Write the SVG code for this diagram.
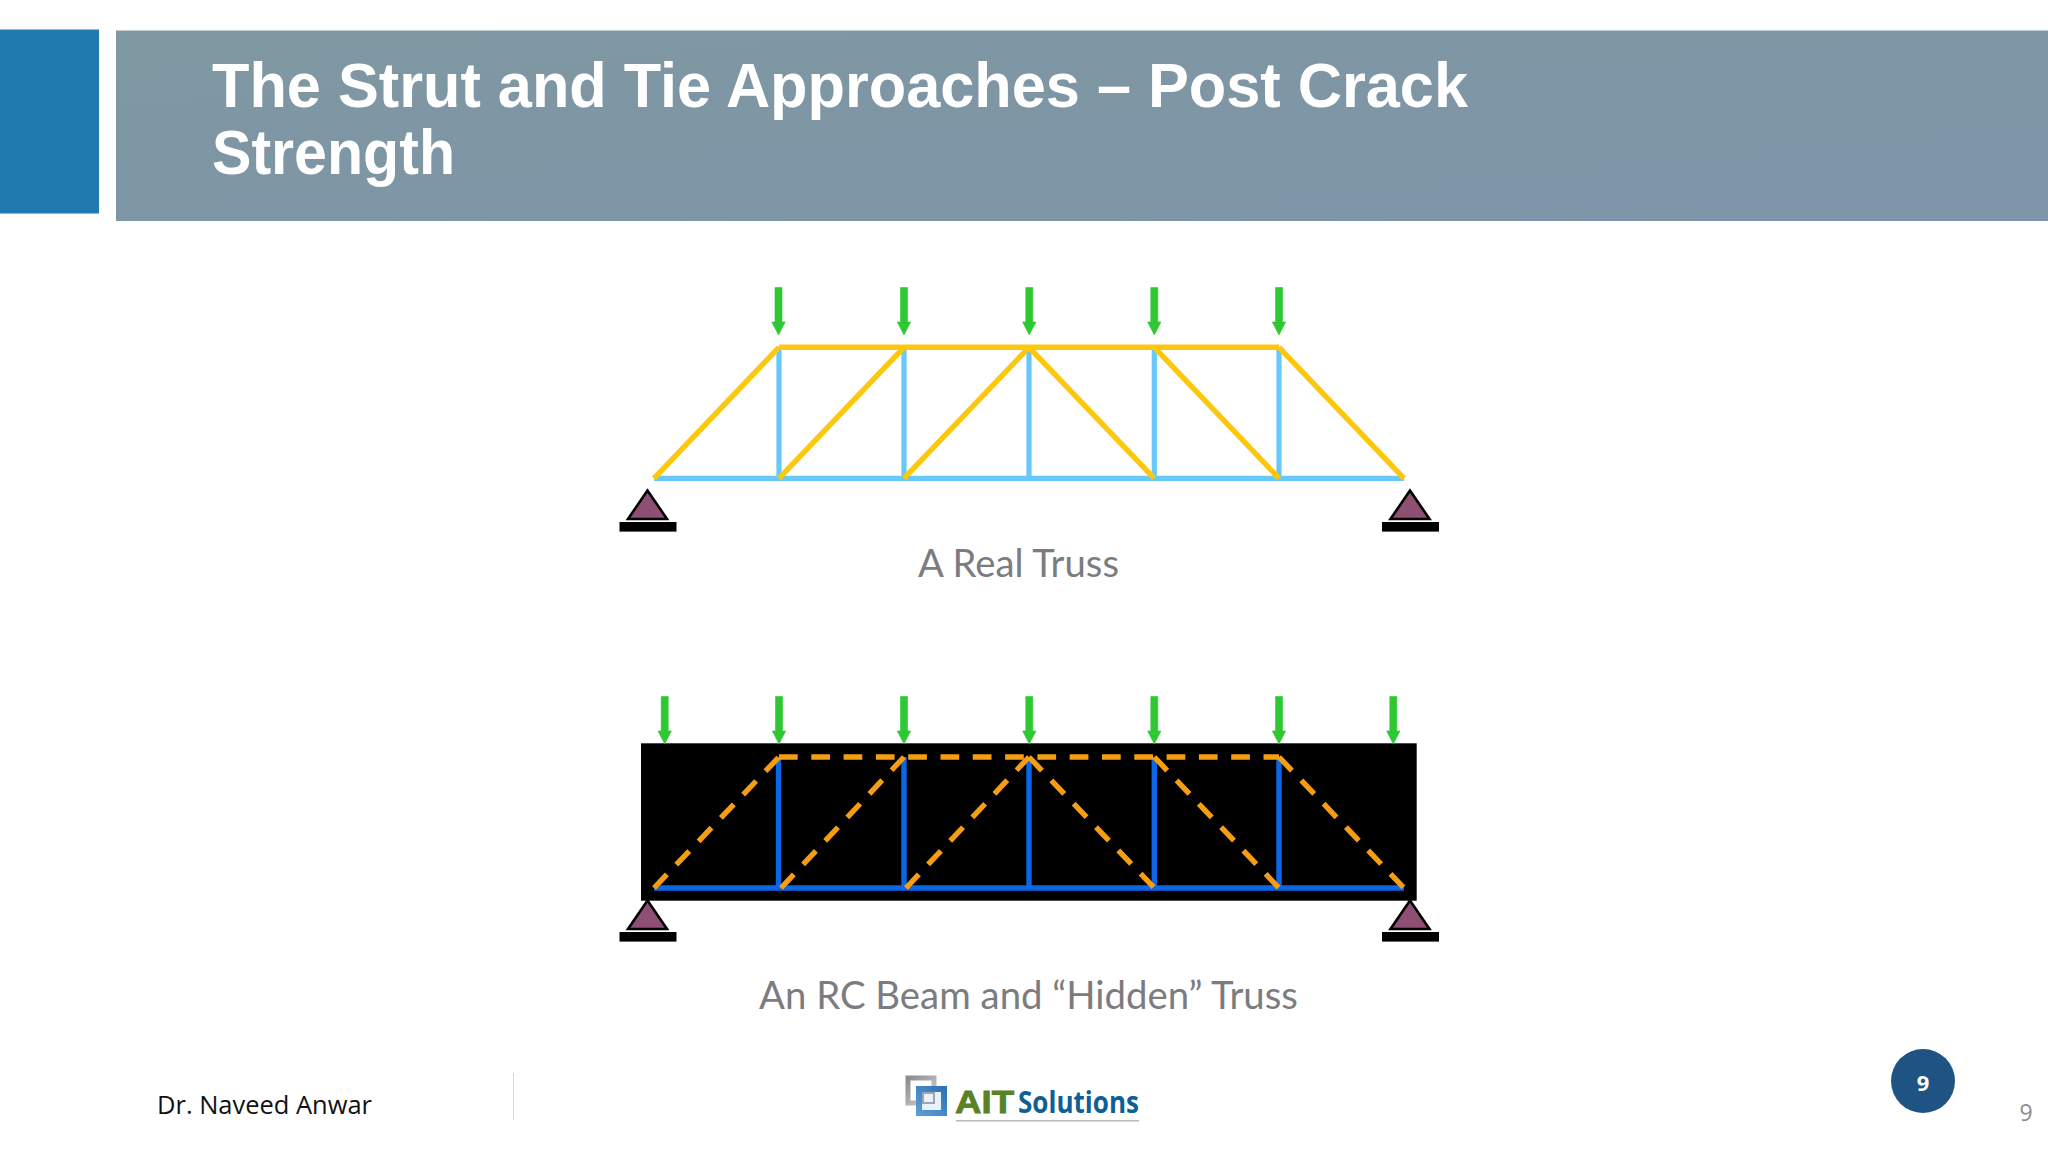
<svg xmlns="http://www.w3.org/2000/svg" width="2048" height="1152" viewBox="0 0 2048 1152">
<style>
.title{font-family:"Liberation Sans",Arial,sans-serif;font-weight:700;font-size:63px;fill:#fff}
.cap{font-family:Lato,"Open Sans",sans-serif;font-size:39px;fill:#7c7c80}
.ft{font-family:"Open Sans","Noto Sans",sans-serif}
.y{stroke:#fcc70c;stroke-width:5.4;fill:none}
.lb{stroke:#66c8fb;stroke-width:5.2;fill:none}
.o{stroke:#f59e14;stroke-width:5.4;fill:none;stroke-dasharray:18.7 13.6}
.b{stroke:#0b66e8;stroke-width:5.4;fill:none}
.sup{fill:#8f4f72;stroke:#000;stroke-width:2.6}
</style>
<defs>
<linearGradient id="hdr" x1="0" y1="0" x2="1" y2="1"><stop offset="0" stop-color="#7f98a1"/><stop offset="1" stop-color="#7e94a9"/></linearGradient>
<linearGradient id="sq1" x1="0" y1="0" x2="1" y2="1"><stop offset="0" stop-color="#8c8c8c"/><stop offset="1" stop-color="#d4d4d4"/></linearGradient>
<linearGradient id="sq2" x1="0" y1="1" x2="1" y2="0"><stop offset="0" stop-color="#5b9bd6"/><stop offset="1" stop-color="#2f74b5"/></linearGradient>
<path id="arrow" d="M-3.5 0H3.5V34.5H6.7L0 47.5L-6.7 34.5H-3.5Z" fill="#2dc832" stroke="#2dc832" stroke-width="0.6"/>
<g id="support"><path class="sup" d="M0 0L-19.5 28.5H19.5Z"/><rect x="-28" y="31.5" width="57" height="9.6" fill="#000"/></g>
</defs>
<rect width="2048" height="1152" fill="#fff"/>
<g id="header">
<rect id="accent" x="0" y="29.5" width="99" height="184" fill="#1f7ab0"/>
<rect id="banner" x="116" y="30.5" width="1932" height="190.5" fill="url(#hdr)"/>
<text class="title" x="212" y="106.5" textLength="1256" lengthAdjust="spacingAndGlyphs">The Strut and Tie Approaches – Post Crack</text>
<text class="title" x="212" y="173.5" textLength="243" lengthAdjust="spacingAndGlyphs">Strength</text>
</g>
<g id="real-truss">
<g id="real-truss-members">
<path class="lb" d="M654 478.3H1404M779 347.3V478.3M904 347.3V478.3M1029 347.3V478.3M1154.3 347.3V478.3M1279 347.3V478.3"/>
<path class="y" d="M779 347.3H1279M654 478.3L779 347.3M779 478.3L904 347.3M904 478.3L1029 347.3M1029 347.3L1154.3 478.3M1154.3 347.3L1279 478.3M1279 347.3L1404 478.3"/>
</g>
<g id="real-truss-loads">
<use href="#arrow" x="778.5" y="287.5"/><use href="#arrow" x="904" y="287.5"/><use href="#arrow" x="1029.3" y="287.5"/><use href="#arrow" x="1154.3" y="287.5"/><use href="#arrow" x="1279" y="287.5"/>
</g>
<use id="real-support-left" href="#support" x="647.5" y="490.5"/>
<use id="real-support-right" href="#support" x="1410" y="490.5"/>
<text class="cap" x="918" y="577" textLength="201" lengthAdjust="spacingAndGlyphs">A Real Truss</text>
</g>
<g id="rc-beam">
<rect id="beam" x="641" y="743.3" width="775.7" height="157.4" fill="#000"/>
<g id="rc-truss-members">
<path class="b" d="M654 888H1404M778.5 757V888M904 757V888M1029 757V888M1154.3 757V888M1279 757V888"/>
<path class="o" d="M779 757H1279"/>
<path class="o" d="M654 888L779 757"/>
<path class="o" d="M781 888L904 757"/>
<path class="o" d="M906 888L1029 757"/>
<path class="o" d="M1029 757L1154.3 888"/>
<path class="o" d="M1154.3 757L1279 888"/>
<path class="o" d="M1279 757L1404 888"/>
</g>
<g id="rc-loads">
<use href="#arrow" x="664.7" y="696.5"/><use href="#arrow" x="779" y="696.5"/><use href="#arrow" x="904" y="696.5"/><use href="#arrow" x="1029.3" y="696.5"/><use href="#arrow" x="1154.3" y="696.5"/><use href="#arrow" x="1279" y="696.5"/><use href="#arrow" x="1393.3" y="696.5"/>
</g>
<use id="rc-support-left" href="#support" x="647.5" y="900.5"/>
<use id="rc-support-right" href="#support" x="1410" y="900.5"/>
<text class="cap" x="759" y="1009" textLength="539" lengthAdjust="spacingAndGlyphs">An RC Beam and “Hidden” Truss</text>
</g>
<g id="footer">
<text class="ft" x="157" y="1114" font-size="26" fill="#111" textLength="215" lengthAdjust="spacingAndGlyphs">Dr. Naveed Anwar</text>
<rect x="513" y="1073" width="1" height="47" fill="#d9d9d9"/>
<g id="logo">
<rect x="908" y="1078" width="26" height="25" fill="none" stroke="url(#sq1)" stroke-width="5"/>
<rect x="919" y="1089" width="25" height="24" fill="#eaf1f8" stroke="url(#sq2)" stroke-width="6"/>
<rect x="923" y="1093" width="11" height="10" fill="none" stroke="#9aa8b5" stroke-width="2"/>
<text x="955" y="1112.7" font-family="Liberation Sans,sans-serif" font-weight="700" font-size="31" fill="#5a8126" stroke="#5a8126" stroke-width="0.8" textLength="59" lengthAdjust="spacingAndGlyphs">AIT</text>
<text x="1018" y="1113" font-family="Open Sans,sans-serif" font-weight="700" font-size="30" fill="#0f5f96" textLength="121" lengthAdjust="spacingAndGlyphs">Solutions</text>
<rect x="956" y="1120" width="183" height="1.6" fill="#bdbdbd"/>
</g>
<g id="page-badge">
<circle cx="1923" cy="1081" r="32" fill="#1f5383"/>
<text class="ft" x="1923" y="1091" font-size="22" font-weight="700" fill="#fff" text-anchor="middle">9</text>
</g>
<text class="ft" x="2026" y="1121" font-size="23" fill="#8c8c8c" text-anchor="middle">9</text>
</g>
</svg>
